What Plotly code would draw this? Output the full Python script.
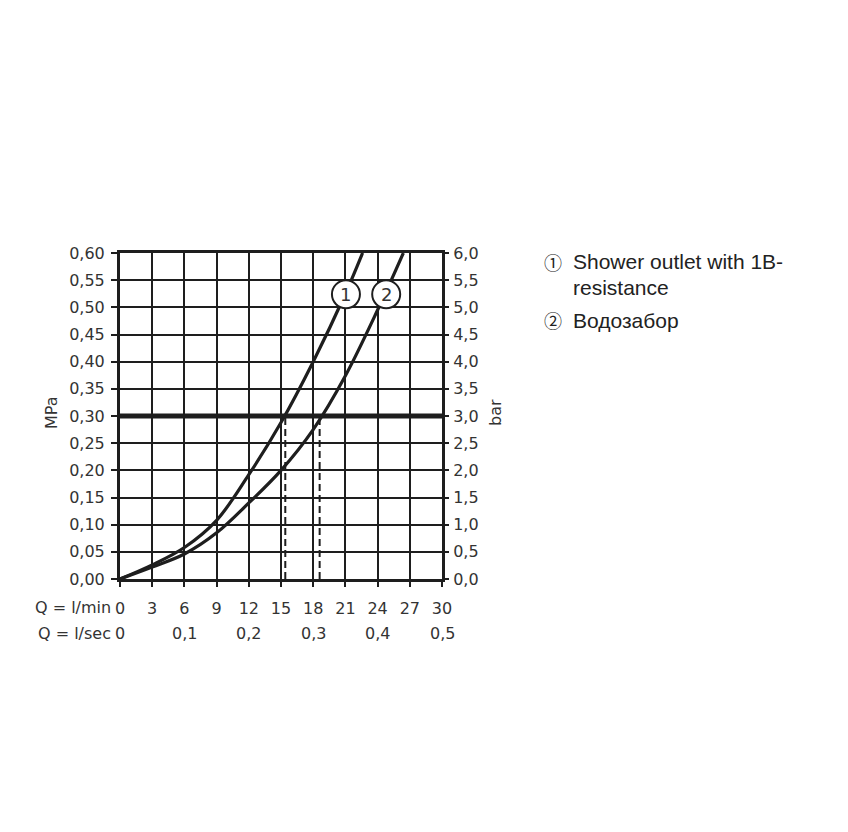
import plotly.graph_objects as go

# ---- data ----
curve1_flow = [0, 3, 6, 9, 12, 15, 18, 21, 22.6]
curve1_mpa = [0, 0.026, 0.058, 0.108, 0.192, 0.288, 0.40, 0.525, 0.60]
curve2_flow = [0, 3, 6, 9, 12, 15, 18, 21, 24, 26.4]
curve2_mpa = [0, 0.022, 0.046, 0.085, 0.140, 0.20, 0.275, 0.374, 0.495, 0.60]

ref_pressure = 0.30
op_flows = [15.4, 18.6]

label_pos_flow = [21.05, 24.8]
label_pos_mpa = [0.524, 0.524]
label_text = ["1", "2"]

lmin_ticks = [0, 3, 6, 9, 12, 15, 18, 21, 24, 27, 30]
lsec_ticks_pos = [0, 6, 12, 18, 24, 30]
lsec_ticks_text = ["0", "0,1", "0,2", "0,3", "0,4", "0,5"]
mpa_ticks = [0, 0.05, 0.10, 0.15, 0.20, 0.25, 0.30, 0.35, 0.40, 0.45, 0.50, 0.55, 0.60]
bar_ticks = [0, 0.5, 1.0, 1.5, 2.0, 2.5, 3.0, 3.5, 4.0, 4.5, 5.0, 5.5, 6.0]

legend_marks = ["\u2460", "", "\u2461"]
legend_lines = ["Shower outlet with 1B-", "resistance", "Водозабор"]

INK = "#1e1e1e"
AXFONT = dict(family="DejaVu Sans", size=16, color="#333333")
LEGFONT = dict(family="Liberation Sans", size=21, color="#222222")

# plot area in page pixels (page has an 8px body margin)
PX0, PX1, PY0, PY1 = 120, 442, 253, 579
W, H = 840, 824
ML, MT = PX0 - 8, PY0 - 8
MR = W - ML - (PX1 - PX0)
MB = H - MT - (PY1 - PY0)


def pp(px, py):
    return (px - PX0) / (PX1 - PX0), (PY1 - py) / (PY1 - PY0)


fig = go.Figure()

fig.add_trace(go.Scatter(x=[0, 30], y=[ref_pressure, ref_pressure], mode="lines",
                         line=dict(color=INK, width=5), showlegend=False, hoverinfo="skip"))
for f in op_flows:
    fig.add_trace(go.Scatter(x=[f, f], y=[0, ref_pressure], mode="lines",
                             line=dict(color=INK, width=2, dash="7px,4px"),
                             showlegend=False, hoverinfo="skip"))

fig.add_trace(go.Scatter(x=curve1_flow, y=curve1_mpa, mode="lines",
                         line=dict(color=INK, width=3.2, shape="spline", smoothing=1.0),
                         showlegend=False))
fig.add_trace(go.Scatter(x=curve2_flow, y=curve2_mpa, mode="lines",
                         line=dict(color=INK, width=3.2, shape="spline", smoothing=1.0),
                         showlegend=False))

fig.add_trace(go.Scatter(x=[0], y=[0], yaxis="y2", mode="markers",
                         marker=dict(opacity=0), showlegend=False, hoverinfo="skip"))

shapes = []
annotations = []
for fx, fy, t in zip(label_pos_flow, label_pos_mpa, label_text):
    shapes.append(dict(type="circle", xref="x", yref="y", xsizemode="pixel", ysizemode="pixel",
                       xanchor=fx, yanchor=fy, x0=-14, x1=14, y0=-14, y1=14,
                       fillcolor="white", line=dict(color=INK, width=2), layer="above"))
    annotations.append(dict(x=fx, y=fy, xref="x", yref="y", text=t, showarrow=False,
                            font=dict(family="DejaVu Sans", size=18, color="#333333")))

for p, t in zip(lsec_ticks_pos, lsec_ticks_text):
    annotations.append(dict(x=p, y=pp(0, 633)[1], xref="x", yref="paper", text=t,
                            showarrow=False, yanchor="middle", font=AXFONT))

for txt, py in [("Q = l/min", 607), ("Q = l/sec", 633)]:
    x, y = pp(113, py)
    annotations.append(dict(x=x, y=y, xref="paper", yref="paper", text=txt, showarrow=False,
                            xanchor="right", yanchor="middle", font=AXFONT))

x, y = pp(51, 413)
annotations.append(dict(x=x, y=y, xref="paper", yref="paper", text="MPa", textangle=-90,
                        xanchor="center", yanchor="middle", showarrow=False, font=AXFONT))
x, y = pp(495, 413)
annotations.append(dict(x=x, y=y, xref="paper", yref="paper", text="bar", textangle=-90,
                        xanchor="center", yanchor="middle", showarrow=False, font=AXFONT))

for mark, txt, py in zip(legend_marks, legend_lines, [262, 287, 320]):
    if mark:
        x, y = pp(542, py)
        annotations.append(dict(x=x, y=y, xref="paper", yref="paper", text=mark,
                                showarrow=False, xanchor="left", yanchor="middle",
                                font=dict(family="Noto Sans CJK JP", size=18, color="#222222")))
    x, y = pp(571, py)
    annotations.append(dict(x=x, y=y, xref="paper", yref="paper", text=txt, showarrow=False,
                            xanchor="left", yanchor="middle", font=LEGFONT))

fig.update_layout(
    width=W, height=H,
    margin=dict(l=ML, r=MR, t=MT, b=MB, pad=0),
    paper_bgcolor="white", plot_bgcolor="white",
    separators=", ",
    xaxis=dict(range=[0, 30], tickvals=lmin_ticks, ticktext=[str(v) for v in lmin_ticks],
               showgrid=True, gridcolor=INK, gridwidth=2, zeroline=False,
               showline=True, linecolor=INK, linewidth=3, mirror=True,
               ticks="outside", ticklen=5, tickwidth=2, tickcolor=INK,
               ticklabelstandoff=8,
               tickfont=AXFONT, fixedrange=True),
    yaxis=dict(range=[0, 0.60], tickvals=mpa_ticks, tickformat=".2f",
               showgrid=True, gridcolor=INK, gridwidth=2, zeroline=False,
               showline=True, linecolor=INK, linewidth=3, mirror=True,
               ticks="outside", ticklen=6, tickwidth=2, tickcolor=INK,
               ticklabelstandoff=3,
               tickfont=AXFONT, fixedrange=True),
    yaxis2=dict(range=[0, 6.0], tickvals=bar_ticks, tickformat=".1f", overlaying="y",
                side="right", showgrid=False, zeroline=False,
                ticks="outside", ticklen=6, tickwidth=2, tickcolor=INK,
                ticklabelstandoff=1,
                tickfont=AXFONT, fixedrange=True),
    shapes=shapes,
    annotations=annotations,
)

fig.write_html("out.html")
